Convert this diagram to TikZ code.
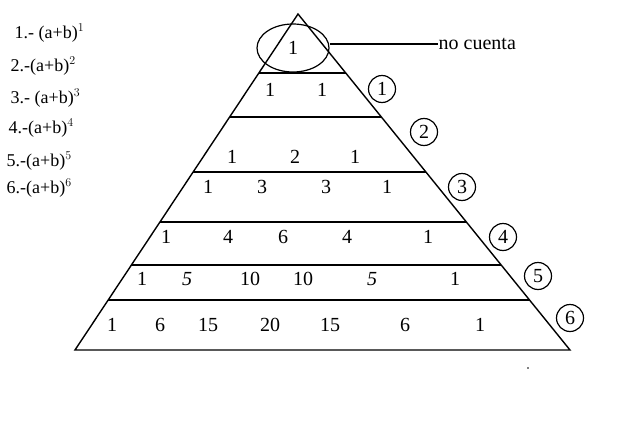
\documentclass[tikz,border=0pt]{standalone}
\usepackage{fontspec}
\usetikzlibrary{shapes.geometric}
\setmainfont{Liberation Serif}
\begin{document}
\begin{tikzpicture}[x=1pt,y=-1pt,line width=1.4pt,
  t/.style={font=\fontsize{20}{24}\selectfont,inner sep=0pt},
  lab/.style={font=\fontsize{18}{22}\selectfont,inner sep=0pt,anchor=west},
  cn/.style={draw,circle,minimum size=27pt,inner sep=0pt,font=\fontsize{20}{24}\selectfont,line width=1.2pt}]
\useasboundingbox (0,0) rectangle (632,434);
\coordinate (A) at (298,14);
\coordinate (L) at (75,350);
\coordinate (R) at (570,350);
\draw (A) -- (L) -- (R) -- cycle;
\foreach \y/\xl/\xr in {73/259/346,117/230/381,172/193/426,222/160/466,265/131/501,300/108/530}
  \draw (\xl,\y) -- (\xr,\y);
\node[draw,ellipse,minimum width=72pt,minimum height=48pt,line width=1.2pt] (e) at (293,48) {};
\node[t] (n1) at (293,48) {1};
\node[t,anchor=west] (nc) at (438,44) {no cuenta};
\draw (e.east) ++(0,-4) -- (nc.west);
\foreach \n/\x/\y in {1/382/89,2/424/132,3/462/187,4/503/237,5/538/276,6/570/318}
  \node[cn] (c\n) at (\x,\y) {\n};
\foreach \x/\v in {270/1,322/1} \node[t] at (\x,90) {\v};
\foreach \x/\v in {232/1,295/2,355/1} \node[t] at (\x,157) {\v};
\foreach \x/\v in {208/1,262/3,326/3,387/1} \node[t] at (\x,187) {\v};
\foreach \x/\v in {166/1,228/4,283/6,347/4,428/1} \node[t] at (\x,237) {\v};
\foreach \x/\v in {142/1,187/\textit{5},250/10,303/10,372/\textit{5},455/1} \node[t] at (\x,279) {\v};
\foreach \x/\v in {112/1,160/6,208/15,270/20,330/15,405/6,480/1} \node[t] at (\x,325) {\v};
\node[lab] at (14,33) {1.- (a+b)$^{\scriptstyle 1}$};
\node[lab] at (10,66) {2.-(a+b)$^{\scriptstyle 2}$};
\node[lab] at (10,98) {3.- (a+b)$^{\scriptstyle 3}$};
\node[lab] at (8,128) {4.-(a+b)$^{\scriptstyle 4}$};
\node[lab] at (6,161) {5.-(a+b)$^{\scriptstyle 5}$};
\node[lab] at (6,188) {6.-(a+b)$^{\scriptstyle 6}$};
\fill (528,368) circle (0.8pt);
\end{tikzpicture}
\end{document}
